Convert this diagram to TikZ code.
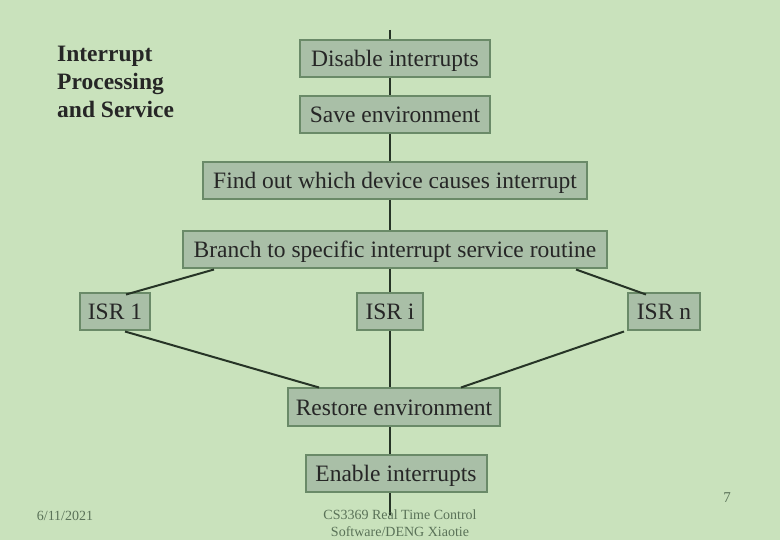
\documentclass[tikz,border=0pt]{standalone}
\usepackage{fontspec}
\setmainfont{Liberation Serif}
\definecolor{bgc}{HTML}{C9E2BC}
\definecolor{boxf}{HTML}{A9BFA7}
\definecolor{boxd}{HTML}{6A8A68}
\definecolor{linec}{HTML}{263426}
\definecolor{footc}{HTML}{5A7258}
\begin{document}
\begin{tikzpicture}[x=1pt,y=-1pt,
  stepbox/.style={draw=boxd,line width=2pt,fill=boxf,inner sep=0pt,text height=19pt,text depth=3pt,font=\fontsize{23.5}{26}\selectfont,text=black!85},
  conn/.style={draw=linec,line width=2pt}]
\fill[bgc] (0,0) rectangle (780,540);
\useasboundingbox (0,0) rectangle (780,540);
\coordinate (top) at (390,30);
\coordinate (bot) at (390,515);
\draw[conn] (top) -- (bot);
\node[stepbox,minimum width=190,minimum height=37] (d) at (395,59) {Disable interrupts};
\node[stepbox,minimum width=190,minimum height=37] (s) at (395,115) {Save environment};
\node[stepbox,minimum width=384,minimum height=37] (f) at (395,181) {Find out which device causes interrupt};
\node[stepbox,minimum width=424,minimum height=37] (b) at (395,250) {Branch to specific interrupt service routine};
\node[stepbox,minimum width=70,minimum height=37] (i1) at (115,312) {ISR 1};
\node[stepbox,minimum width=66,minimum height=37] (ii) at (390,312) {ISR i};
\node[stepbox,minimum width=72,minimum height=37] (in) at (664,312) {ISR n};
\node[stepbox,minimum width=212,minimum height=37] (r) at (394,407) {Restore environment};
\node[stepbox,minimum width=181,minimum height=37] (e) at (396,473) {Enable interrupts};
\draw[conn] ([xshift=32]b.south west) -- ([xshift=-25,yshift=-2]i1.north east);
\draw[conn] ([xshift=-32]b.south east) -- ([xshift=-18,yshift=-2]in.north);
\draw[conn] ([xshift=10]i1.south) -- ([xshift=32]r.north west);
\draw[conn] ([xshift=-40]in.south) -- ([xshift=-40]r.north east);
\node[anchor=north west,align=left,font=\bfseries\fontsize{23.5}{28}\selectfont,text=black!85,inner sep=0pt] (t) at (57,46) {Interrupt\\Processing\\and Service};
\node[font=\fontsize{14}{14}\selectfont,text=footc] (dt) at (65,516) {6/11/2021};
\node[align=center,font=\fontsize{14}{17}\selectfont,text=footc] (ft) at (400,523) {CS3369 Real Time Control\\Software/DENG Xiaotie};
\node[font=\fontsize{15}{15}\selectfont,text=footc] (pg) at (727,498) {7};
\end{tikzpicture}
\end{document}
